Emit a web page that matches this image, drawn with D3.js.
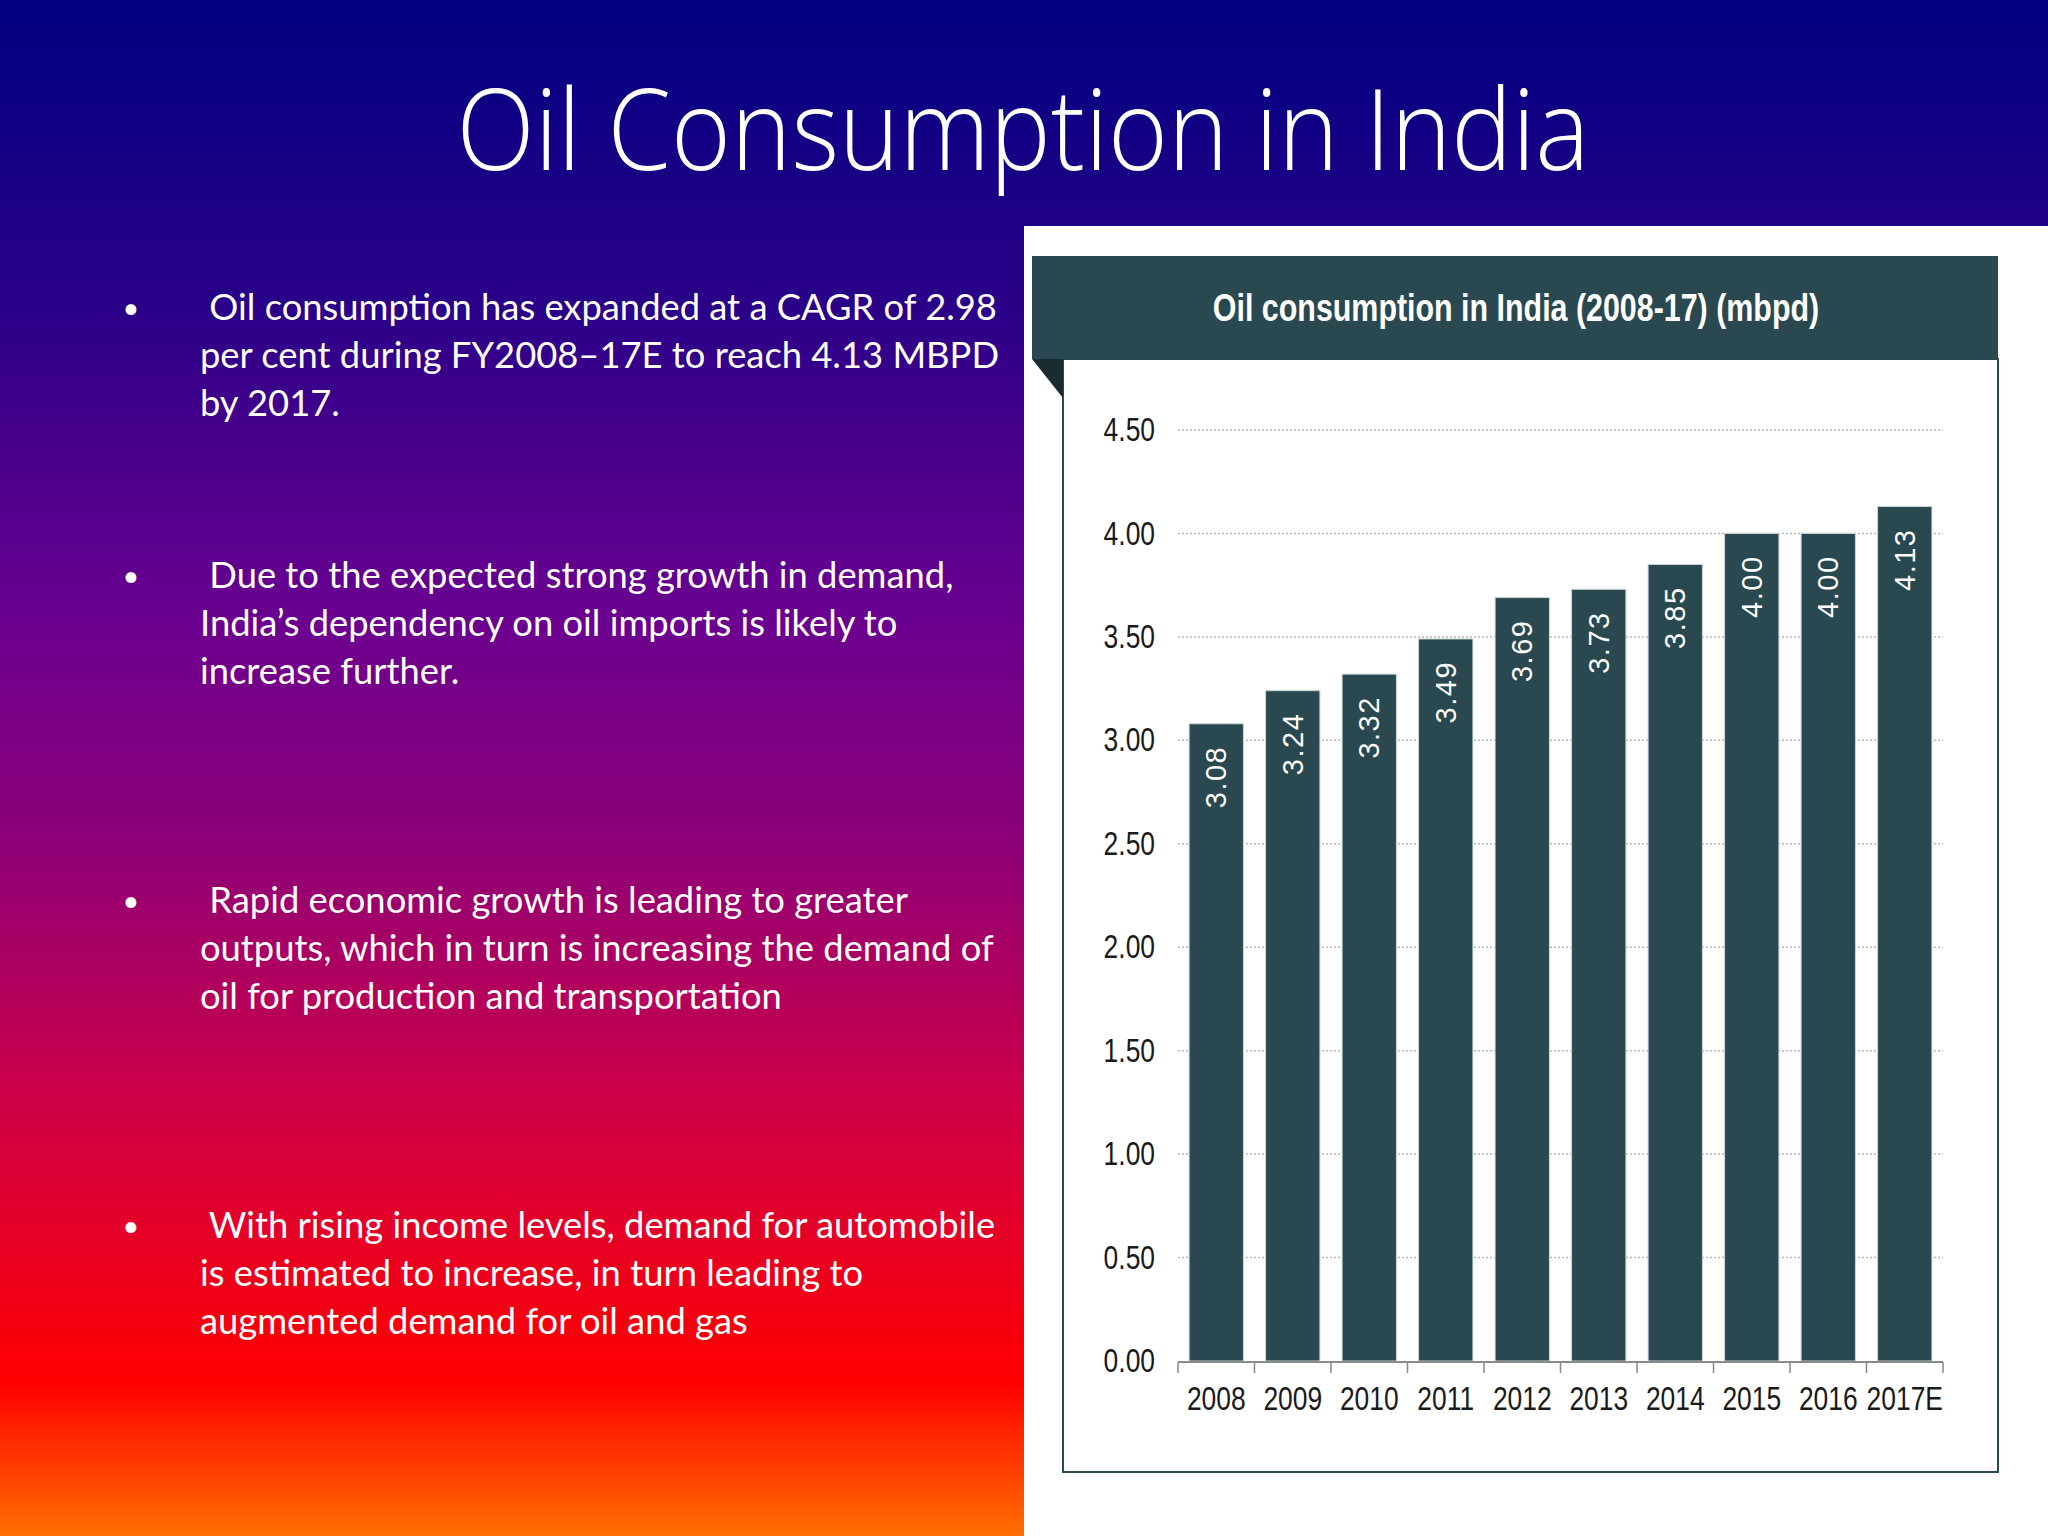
<!DOCTYPE html>
<html>
<head>
<meta charset="utf-8">
<script src="https://cdn.jsdelivr.net/npm/d3@7"></script>
<style>
  html, body { margin: 0; padding: 0; background: #fff; }
  svg { display: block; }
</style>
</head>
<body>
<svg id="slide" width="2048" height="1536"></svg>
<script>
// chart data
const years = ["2008", "2009", "2010", "2011", "2012", "2013", "2014", "2015", "2016", "2017E"];
const consumption = [3.08, 3.24, 3.32, 3.49, 3.69, 3.73, 3.85, 4.00, 4.00, 4.13];
const yTicks = [0, 0.5, 1, 1.5, 2, 2.5, 3, 3.5, 4, 4.5];

const slideTitle = "Oil Consumption in India";
const chartTitle = "Oil consumption in India (2008-17) (mbpd)";

// bullet paragraphs, one array per bullet
const bullets = [
  [" Oil consumption has expanded at a CAGR of 2.98", "per cent during FY2008\u201317E to reach 4.13 MBPD", "by 2017."],
  [" Due to the expected strong growth in demand,", "India\u2019s dependency on oil imports is likely to", "increase further."],
  [" Rapid economic growth is leading to greater", "outputs, which in turn is increasing the demand of", "oil for production and transportation"],
  [" With rising income levels, demand for automobile", "is estimated to increase, in turn leading to", "augmented demand for oil and gas"]
];

const svg = d3.select("#slide");
const W = 2048, H = 1536;
const dark = "#29484f";
const sans = "'Liberation Sans', Arial, sans-serif";
const squeeze = "scale(0.8,1)"; // no narrow font installed, squeeze Arial-like glyphs

// background gradient
const grad = svg.append("defs").append("linearGradient")
  .attr("id", "bg").attr("x1", 0).attr("y1", 0).attr("x2", 0).attr("y2", 1);
[[0, "#000080"], [0.2, "#2a0088"], [0.4, "#6a0090"], [0.55, "#8e0078"],
 [0.7, "#c8004c"], [0.8, "#e40028"], [0.9, "#ff0000"], [1, "#ff6e00"]]
  .forEach(([o, c]) => grad.append("stop").attr("offset", o).attr("stop-color", c));

svg.append("rect").attr("width", W).attr("height", H).attr("fill", "url(#bg)");

// slide title
svg.append("text")
  .attr("x", 1023).attr("y", 170)
  .attr("text-anchor", "middle")
  .attr("textLength", 1133).attr("lengthAdjust", "spacingAndGlyphs")
  .style("font-family", "'Open Sans', sans-serif")
  .style("font-weight", 300)
  .style("font-size", "113px")
  .attr("fill", "#fff")
  .text(slideTitle);

// bullets
const bulletG = svg.append("g").attr("fill", "#fff").style("font-family", "Lato, 'Open Sans', sans-serif");
const probe = bulletG.append("text").style("font-size", "100px").text(bullets[0][0]);
const bulletSize = 788 / probe.node().getComputedTextLength() * 100;
probe.remove();

const paraY = [320, 588, 913, 1238];
const lineGap = 48;
bullets.forEach((lines, i) => {
  bulletG.append("text")
    .attr("x", 131).attr("y", paraY[i] - 2)
    .attr("text-anchor", "middle")
    .style("font-size", (bulletSize * 0.8) + "px")
    .text("\u2022");
  lines.forEach((line, j) => {
    bulletG.append("text")
      .attr("x", 200).attr("y", paraY[i] + j * lineGap)
      .style("font-size", bulletSize + "px")
      .style("white-space", "pre")
      .attr("xml:space", "preserve")
      .text(line);
  });
});

// white panel
svg.append("rect").attr("x", 1024).attr("y", 226).attr("width", W - 1024).attr("height", H - 226).attr("fill", "#fff");

// chart box
svg.append("rect")
  .attr("x", 1063).attr("y", 359).attr("width", 1998 - 1063).attr("height", 1472 - 359)
  .attr("fill", "#fff").attr("stroke", dark).attr("stroke-width", 2);

// header band and fold
svg.append("rect").attr("x", 1032).attr("y", 256).attr("width", 1998 - 1032).attr("height", 103).attr("fill", dark);
svg.append("path").attr("d", "M1032,359 L1063,359 L1063,398 Z").attr("fill", "#1a2c30");

svg.append("g").attr("transform", "translate(1516,308) " + squeeze)
  .append("text")
  .attr("text-anchor", "middle").attr("dominant-baseline", "central")
  .style("font-family", sans).style("font-weight", "bold").style("font-size", "38px")
  .attr("fill", "#fff")
  .text(chartTitle);

// scales
const x = d3.scaleBand().domain(years).range([1178, 1943]).paddingInner(0.29).paddingOuter(0.145);
const y = d3.scaleLinear().domain([0, 4.5]).range([1361, 430]);

const plot = svg.append("g");

// gridlines
plot.selectAll(".grid").data(yTicks.filter(d => d > 0)).enter().append("line")
  .attr("x1", 1178).attr("x2", 1943)
  .attr("y1", d => y(d)).attr("y2", d => y(d))
  .attr("stroke", "#b8b8b8").attr("stroke-width", 1.5).attr("stroke-dasharray", "2,2");

// y axis labels
const yAxis = d3.axisLeft(y).tickValues(yTicks).tickFormat(d3.format(".2f")).tickSize(0).tickPadding(0);
const yG = plot.append("g").attr("transform", "translate(1155,0)").call(yAxis);
yG.select(".domain").remove();
yG.selectAll("text")
  .attr("transform", squeeze)
  .style("font-family", sans).style("font-size", "33px").attr("fill", "#1a1a1a");

// bars
plot.selectAll(".bar").data(consumption).enter().append("rect")
  .attr("x", (d, i) => x(years[i]))
  .attr("y", d => y(d))
  .attr("width", x.bandwidth())
  .attr("height", d => y(0) - y(d))
  .attr("fill", dark)
  .attr("stroke", "#c9d3d6").attr("stroke-width", 1);

// value labels
plot.selectAll(".val").data(consumption).enter().append("text")
  .attr("transform", (d, i) => `translate(${x(years[i]) + x.bandwidth() / 2},${y(d) + 22}) rotate(-90)`)
  .attr("text-anchor", "end").attr("dominant-baseline", "central")
  .style("font-family", sans).style("font-size", "29px")
  .style("letter-spacing", "1.5px")
  .attr("fill", "#fff")
  .text(d => d.toFixed(2));

// x axis with ticks at category boundaries
const step = x.step();
const xAxisG = plot.append("g");
xAxisG.append("line").attr("x1", 1178).attr("x2", 1943).attr("y1", 1362).attr("y2", 1362)
  .attr("stroke", "#8a8a8a").attr("stroke-width", 2);
xAxisG.selectAll(".tk").data(d3.range(years.length + 1)).enter().append("line")
  .attr("x1", i => 1178 + i * step).attr("x2", i => 1178 + i * step)
  .attr("y1", 1362).attr("y2", 1373)
  .attr("stroke", "#8a8a8a").attr("stroke-width", 1.5);

const xAxis = d3.axisBottom(x).tickSize(0).tickPadding(0);
const xG = plot.append("g").attr("transform", "translate(0,1387)").call(xAxis);
xG.select(".domain").remove();
xG.selectAll("text")
  .attr("transform", squeeze)
  .style("font-family", sans).style("font-size", "33px").attr("fill", "#1a1a1a");
</script>
</body>
</html>
